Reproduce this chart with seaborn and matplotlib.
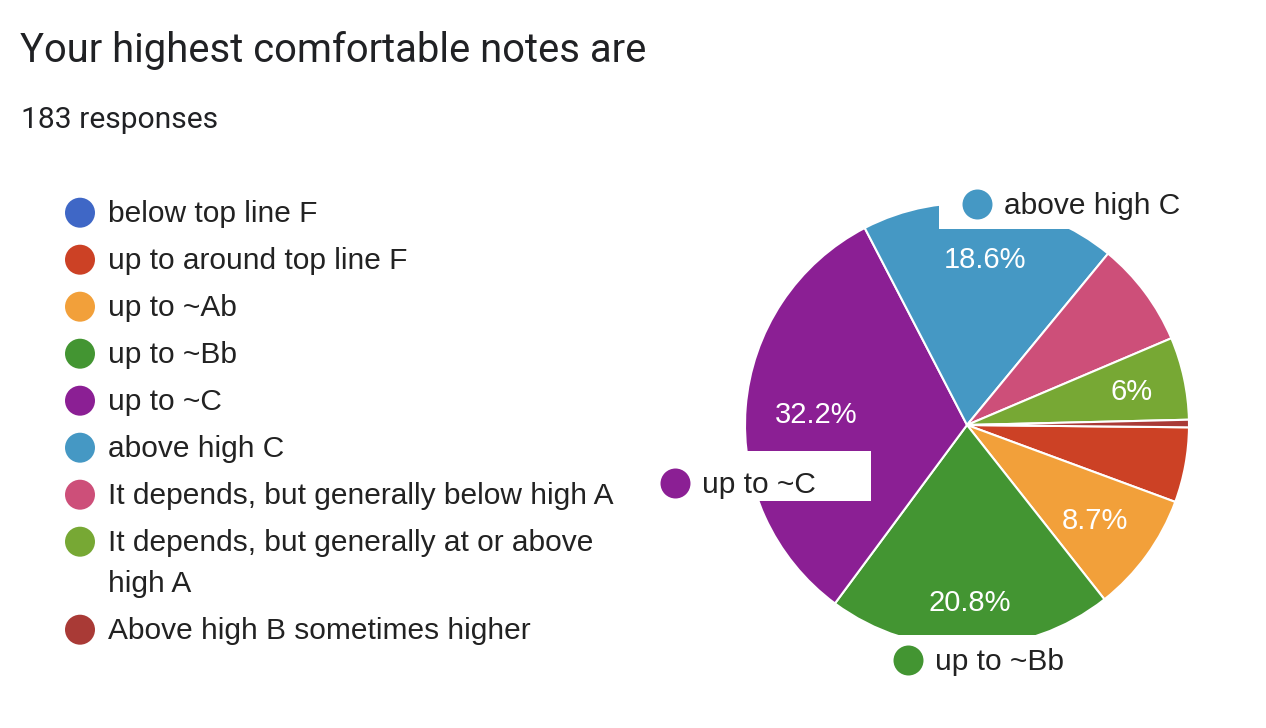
import matplotlib
matplotlib.use("Agg")
import matplotlib.pyplot as plt
from matplotlib.patches import Rectangle
import numpy as np
import pandas as pd
import seaborn as sns

# chart data
title = "Your highest comfortable notes are"
subtitle = "183 responses"
answers = ["below top line F", "up to around top line F", "up to ~Ab", "up to ~Bb",
           "up to ~C", "above high C", "It depends, but generally below high A",
           "It depends, but generally at or above high A", "Above high B sometimes higher"]
counts = [0, 10, 16, 38, 59, 34, 14, 11, 1]
colors = ["#3f67c6", "#cc4125", "#f2a03a", "#439532", "#8b1f94",
          "#4598c4", "#cd4f79", "#77a834", "#a93a36"]
legend_lines = ["below top line F", "up to around top line F", "up to ~Ab", "up to ~Bb",
                "up to ~C", "above high C", "It depends, but generally below high A",
                "It depends, but generally at or above\nhigh A", "Above high B sometimes higher"]
pct_shown = ["up to ~Ab", "up to ~Bb", "up to ~C", "above high C",
             "It depends, but generally at or above high A"]
callouts = ["above high C", "up to ~C", "up to ~Bb"]

sns.set_theme(style="white")
plt.rcParams['font.family'] = ['Liberation Sans', 'DejaVu Sans']

W, H = 1266, 728
fig = plt.figure(figsize=(W / 100, H / 100), dpi=100)
fig.patch.set_facecolor("white")

# pie, centre (967, 425) px, radius 222 px
cx, cy, R = 967, 425, 222
ax_pie = fig.add_axes([(cx - R) / W, (H - cy - R) / H, 2 * R / W, 2 * R / H])
wedges, _ = ax_pie.pie(counts, colors=colors, startangle=-0.6, counterclock=False,
                       wedgeprops=dict(edgecolor="white", linewidth=1.5))
ax_pie.set_xlim(-1, 1)
ax_pie.set_ylim(-1, 1)
ax_pie.set_aspect("equal")
ax_pie.axis("off")

total = sum(counts)
# radial position of the percentage text (fraction of radius)
pct_r = {"up to ~Ab": 0.715, "up to ~Bb": 0.79, "up to ~C": 0.68,
         "above high C": 0.757, "It depends, but generally at or above high A": 0.76}
for w, name, n in zip(wedges, answers, counts):
    if name not in pct_shown:
        continue
    mid = np.deg2rad((w.theta1 + w.theta2) / 2)
    r = pct_r[name]
    pct = round(100 * n / total, 1)
    txt = f"{pct:.1f}".rstrip("0").rstrip(".") + "%"
    ax_pie.annotate(txt, xy=(r * np.cos(mid), r * np.sin(mid)), xytext=(0, -7.4),
                    textcoords="offset points", ha="center", va="baseline",
                    color="white", fontsize=21)

# overlay in pixel coordinates
ax = fig.add_axes([0, 0, 1, 1], zorder=3)
ax.set_xlim(0, W)
ax.set_ylim(H, 0)
ax.patch.set_visible(False)
ax.axis("off")

ax.text(20, 62.5, title, fontsize=28.8, family="Roboto", color="#202124", va="baseline")
ax.text(21, 128, subtitle, fontsize=21.6, family="Roboto", color="#202124", va="baseline")

# legend
rows = []
y = 212.7
for name, line in zip(answers, legend_lines):
    rows.append(y)
    parts = line.split("\n")
    for k, p in enumerate(parts):
        ax.text(108, y + 9.6 + 41 * k, p, fontsize=21.5, color="#222222", va="baseline")
    y += 47 + 41 * (len(parts) - 1)
leg = pd.DataFrame({"answer": answers, "x": 80, "y": rows})
sns.scatterplot(data=leg, x="x", y="y", hue="answer", palette=colors, s=466,
                linewidth=0, legend=False, ax=ax)
ax.set_xlim(0, W)
ax.set_ylim(H, 0)
ax.axis("off")

# callout labels with white boxes over the pie
boxes = {"above high C": (939, 170, 270, 59),
         "up to ~C": (655, 451, 216, 50),
         "up to ~Bb": (860, 635, 220, 55)}
dots = {"above high C": (977, 204), "up to ~C": (675, 483), "up to ~Bb": (908, 660)}
for name in callouts:
    bx, by, bw, bh = boxes[name]
    ax.add_patch(Rectangle((bx, by), bw, bh, facecolor="white", edgecolor="none", zorder=1))
    dx, dy = dots[name]
    ax.scatter([dx], [dy], s=466, color=colors[answers.index(name)], linewidth=0, zorder=2)
    ax.text(dx + 27, dy + 9.6, name, fontsize=21.5, color="#222222", va="baseline", zorder=3)

fig.savefig("out.png", dpi=100, facecolor="white")
